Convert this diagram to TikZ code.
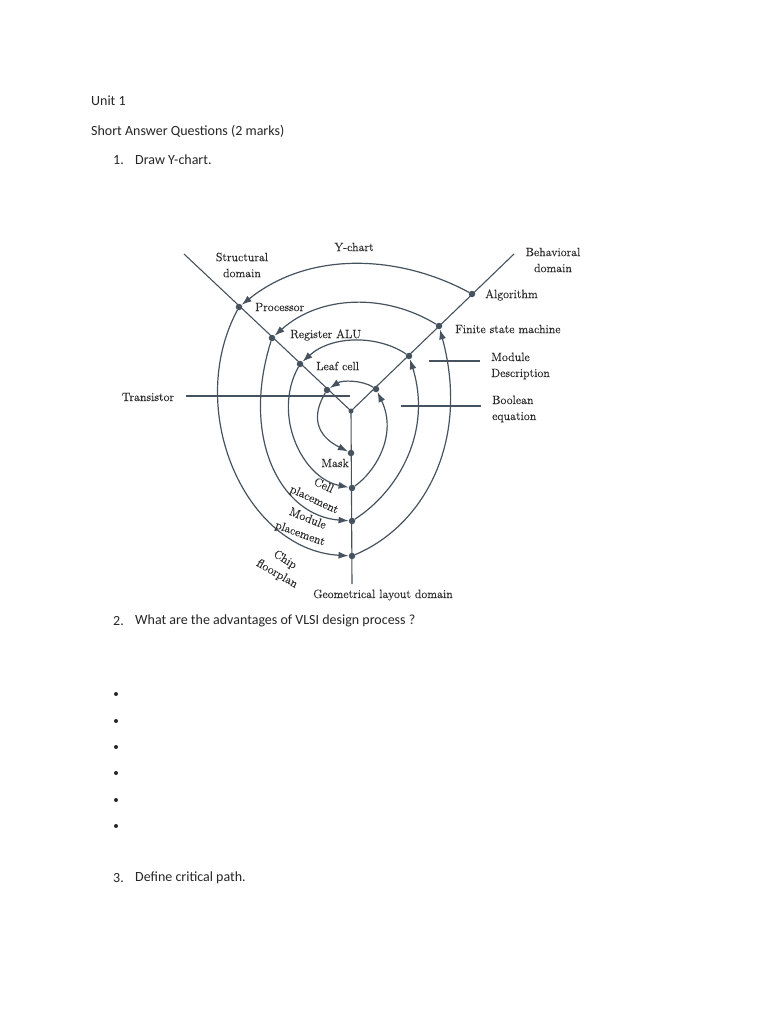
\documentclass[tikz,border=0pt]{standalone}
\usepackage{fontspec}
\setmainfont{Carlito}
\usetikzlibrary{arrows.meta}
\definecolor{chartline}{HTML}{46535F}
\definecolor{charttext}{HTML}{2A2A2A}
\definecolor{bodytext}{HTML}{262626}
\newfontfamily\chartfont[BoldFont=Latin Modern Roman, BoldFeatures={FakeBold=0.35}]{Latin Modern Roman}
\tikzset{
	bodytxt/.style={anchor=west, inner sep=0pt, text=bodytext, font=\fontsize{14}{16}\selectfont},
	charttxt/.style={inner sep=0pt, text=charttext, align=center, font=\chartfont\bfseries\fontsize{12}{16}\selectfont},
	stepdot/.style={circle, fill=chartline, inner sep=0pt, minimum size=6.5pt},
	armline/.style={draw=chartline, line width=1.1pt},
	spiral/.style={draw=chartline, line width=1.2pt, -{Latex[length=10pt,width=7pt]}}
}
\begin{document}
\begin{tikzpicture}[x=1pt, y=-1pt]
	\useasboundingbox (0,0) rectangle (768,1024);
	\fill[white] (0,0) rectangle (768,1024);

	% page text
	\node[bodytxt] (unit) at (91,101) {Unit 1};
	\node[bodytxt] (short) at (91,131) {Short Answer Questions (2 marks)};
	\node[bodytxt] (numa) at (113,160) {1.};
	\node[bodytxt] (qa) at (135,160) {Draw Y-chart.};
	\node[bodytxt] (numb) at (113,621) {2.};
	\node[bodytxt] (qb) at (135,621) {What are the advantages of VLSI design process ?};
	\node[bodytxt] (numc) at (113,878) {3.};
	\node[bodytxt] (qc) at (135,878) {Define critical path.};
	\foreach \yb in {694,721,747,773,800,826}
		\fill[bodytext] (116,\yb) circle (2);

	% centre and arm ends
	\node[stepdot, minimum size=5pt] (ctr) at (351,411) {};
	\coordinate (endl) at (184,254);
	\coordinate (endr) at (514,254);
	\coordinate (endb) at (352,584);

	% dots on the three arms
	\node[stepdot] (la) at (239,307) {};
	\node[stepdot] (lb) at (272,338) {};
	\node[stepdot] (lc) at (300,364) {};
	\node[stepdot] (ld) at (327,390) {};
	\node[stepdot] (ra) at (472,294) {};
	\node[stepdot] (rb) at (439,326) {};
	\node[stepdot] (rc) at (409,356) {};
	\node[stepdot] (rd) at (376,389) {};
	\node[stepdot] (ba) at (352,556) {};
	\node[stepdot] (bb) at (352,521) {};
	\node[stepdot] (bc) at (352,488) {};
	\node[stepdot] (bd) at (351,453) {};

	\draw[armline] (endl) -- (ctr.center) -- (endr);
	\draw[armline] (ctr.center) -- (endb);

	% the spiral, outside to inside
	\draw[spiral] (ra) .. controls (400,255) and (310,250) .. (la);
	\draw[spiral] (la) .. controls (184,410) and (245,550) .. (ba);
	\draw[spiral] (ba) .. controls (425,525) and (470,440) .. (rb);
	\draw[spiral] (rb) .. controls (385,293) and (320,295) .. (lb);
	\draw[spiral] (lb) .. controls (240,440) and (282,516) .. (bb);
	\draw[spiral] (bb) .. controls (400,490) and (432,430) .. (rc);
	\draw[spiral] (rc) .. controls (378,335) and (332,335) .. (lc);
	\draw[spiral] (lc) .. controls (272,415) and (302,478) .. (bc);
	\draw[spiral] (bc) .. controls (375,472) and (398,435) .. (rd);
	\draw[spiral] (rd) .. controls (362,380) and (342,380) .. (ld);
	\draw[spiral] (ld) .. controls (312,415) and (315,435) .. (bd);

	% pointer lines
	\coordinate (ptra) at (186,396);
	\coordinate (ptrb) at (350,396);
	\coordinate (ptrc) at (429,361);
	\coordinate (ptrd) at (480,361);
	\coordinate (ptre) at (401,406);
	\coordinate (ptrf) at (481,406);
	\draw[armline] (ptra) -- (ptrb);
	\draw[armline] (ptrc) -- (ptrd);
	\draw[armline] (ptre) -- (ptrf);

	% chart labels
	\node[charttxt] (lbchart) at (354,247) {Y-chart};
	\node[charttxt] (lbstruct) at (242,265) {Structural\\domain};
	\node[charttxt] (lbbehav) at (553,260) {Behavioral\\domain};
	\node[charttxt, anchor=west] (lbalgo) at (485,295) {Algorithm};
	\node[charttxt, anchor=west] (lbfsm) at (455,329) {Finite state machine};
	\node[charttxt, anchor=west, align=left] (lbmod) at (491,366) {Module\\Description};
	\node[charttxt, anchor=west, align=left] (lbbool) at (492,409) {Boolean\\equation};
	\node[charttxt, anchor=west] (lbproc) at (255,307) {Processor};
	\node[charttxt, anchor=west] (lbreg) at (290,335) {Register ALU};
	\node[charttxt, anchor=west] (lbleaf) at (316,366) {Leaf cell};
	\node[charttxt] (lbtrans) at (148,397) {Transistor};
	\node[charttxt] (lbmask) at (335,463) {Mask};
	\node[charttxt, rotate=-25] (lbcell) at (324,485) {Cell};
	\node[charttxt, rotate=-25] (lbplca) at (314,500) {placement};
	\node[charttxt, rotate=-22] (lbmodu) at (308,518) {Module};
	\node[charttxt, rotate=-20] (lbplcb) at (300,534) {placement};
	\node[charttxt, rotate=-32] (lbchip) at (285,560) {Chip};
	\node[charttxt, rotate=-30] (lbfloor) at (277,574) {floorplan};
	\node[charttxt] (lbgeo) at (383,595) {Geometrical layout domain};
\end{tikzpicture}
\end{document}
